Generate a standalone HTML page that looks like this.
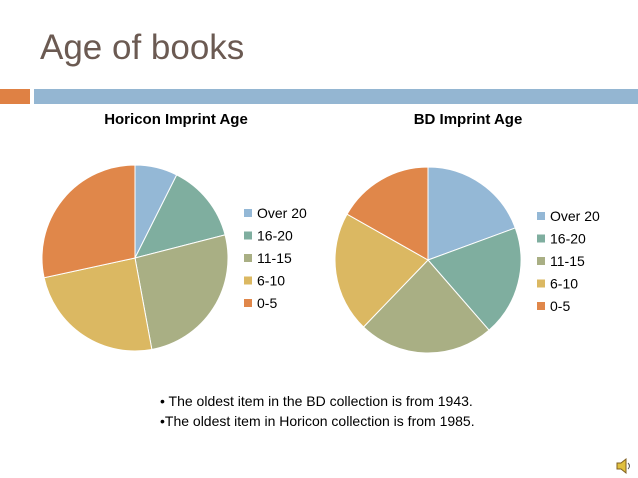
<!DOCTYPE html>
<html><head><meta charset="utf-8"><style>
body{margin:0;width:638px;height:478px;background:#fff;overflow:hidden;font-family:"Liberation Sans",sans-serif;position:relative}
.t{position:absolute;white-space:nowrap}
</style></head><body>
<div class="t" style="left:40px;top:28px;font-size:35px;color:#6b5a52">Age of books</div>
<div style="position:absolute;left:0;top:89px;width:30px;height:15px;background:#df8144"></div>
<div style="position:absolute;left:34px;top:89px;width:604px;height:15px;background:#94b6d2"></div>
<svg id="c" width="638" height="478" style="position:absolute;left:0;top:0"></svg>
<div class="t" style="left:160px;top:393px;font-size:14px;color:#000">• The oldest item in the BD collection is from 1943.</div>
<div class="t" style="left:160px;top:413px;font-size:14px;color:#000">•The oldest item in Horicon collection is from 1985.</div>
<svg width="20" height="20" style="position:absolute;left:614px;top:456px"><polygon points="3,7 7,7 12,3 12,17 7,13 3,13" fill="#e0c040" stroke="#806020"/><path d="M14,7 Q17,10 14,13" stroke="#555" fill="none"/></svg>
<script>
const categories=["Over 20","16-20","11-15","6-10","0-5"];
const colors=["#94b8d6","#7fae9f","#a9af84","#dbb862","#e0874a"];
const horiconValues=[7.4,13.6,26.1,24.5,28.4];
const bdValues=[19.4,19.2,23.6,21,16.8];
const ns="http://www.w3.org/2000/svg";
const svg=document.getElementById('c');
function mk(t,a){const e=document.createElementNS(ns,t);for(const k in a)e.setAttribute(k,a[k]);svg.appendChild(e);return e;}
function pie(vals,cx,cy,r,title,tx,lx,ly,name){
 const tt=mk('text',{x:tx,y:124,'font-size':15,'font-weight':'bold','text-anchor':'middle',fill:'#000'});
 tt.textContent=title;
 
 
 const tot=vals.reduce((a,b)=>a+b,0);let a0=0;
 vals.forEach((v,i)=>{
  const a1=a0+v/tot*2*Math.PI;
  const x0=cx+r*Math.sin(a0),y0=cy-r*Math.cos(a0),x1=cx+r*Math.sin(a1),y1=cy-r*Math.cos(a1);
  const p=mk('path',{d:`M${cx},${cy}L${x0},${y0}A${r},${r} 0 ${a1-a0>Math.PI?1:0} 1 ${x1},${y1}Z`,fill:colors[i],stroke:'#fff','stroke-width':1});
  
  
  a0=a1;
  const sq=mk('rect',{x:lx,y:ly+i*22.5-4,width:8,height:8,fill:colors[i]});
  
  
  const lt=mk('text',{x:lx+13,y:ly+i*22.5+5,'font-size':14,fill:'#000'});
  lt.textContent=categories[i];
  
  
 });
}
pie(horiconValues,135,258,93,"Horicon Imprint Age",176,244,213,'horicon');
pie(bdValues,428,260,93,"BD Imprint Age",468,537,216,'bd');
</script>
</body></html>
